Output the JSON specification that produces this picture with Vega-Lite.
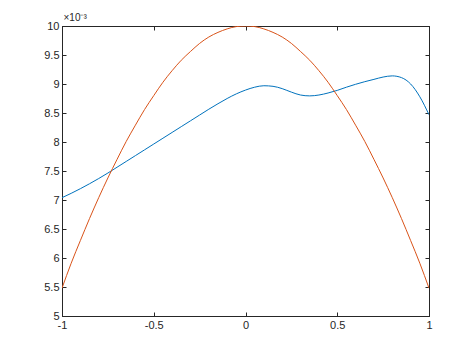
{
  "$schema": "https://vega.github.io/schema/vega-lite/v6.json",
  "width": 367,
  "height": 290,
  "autosize": {"type": "none"},
  "padding": {"left": 62, "top": 26, "right": 45, "bottom": 39},
  "background": "white",
  "config": {
    "view": {"stroke": "#262626", "strokeWidth": 1},
    "axis": {"grid": false, "domainColor": "#262626", "tickColor": "#262626", "labelColor": "#262626", "labelFont": "Liberation Sans", "labelFontSize": 11, "tickSize": -4, "domainWidth": 1, "tickWidth": 1, "titleFont": "Liberation Sans", "titleColor": "#262626"}
  },
  "datasets": {
    "pts": [
      {"x": -1, "s": "b", "y": 0.00704}, {"x": -0.95, "s": "b", "y": 0.007115}, {"x": -0.9, "s": "b", "y": 0.007195}, {"x": -0.85, "s": "b", "y": 0.00728}, {"x": -0.8, "s": "b", "y": 0.00737}, {"x": -0.75, "s": "b", "y": 0.007465}, {"x": -0.7, "s": "b", "y": 0.007565}, {"x": -0.65, "s": "b", "y": 0.007665}, {"x": -0.6, "s": "b", "y": 0.007765}, {"x": -0.55, "s": "b", "y": 0.007865}, {"x": -0.5, "s": "b", "y": 0.007965}, {"x": -0.45, "s": "b", "y": 0.008065}, {"x": -0.4, "s": "b", "y": 0.008165}, {"x": -0.35, "s": "b", "y": 0.008265}, {"x": -0.3, "s": "b", "y": 0.008365}, {"x": -0.25, "s": "b", "y": 0.008465}, {"x": -0.2, "s": "b", "y": 0.008565}, {"x": -0.15, "s": "b", "y": 0.00866}, {"x": -0.1, "s": "b", "y": 0.00875}, {"x": -0.05, "s": "b", "y": 0.00883}, {"x": 0, "s": "b", "y": 0.008895}, {"x": 0.05, "s": "b", "y": 0.008945}, {"x": 0.1, "s": "b", "y": 0.00897}, {"x": 0.15, "s": "b", "y": 0.00896}, {"x": 0.2, "s": "b", "y": 0.00892}, {"x": 0.25, "s": "b", "y": 0.00886}, {"x": 0.3, "s": "b", "y": 0.00881}, {"x": 0.35, "s": "b", "y": 0.008795}, {"x": 0.4, "s": "b", "y": 0.00881}, {"x": 0.45, "s": "b", "y": 0.008845}, {"x": 0.5, "s": "b", "y": 0.00889}, {"x": 0.55, "s": "b", "y": 0.008945}, {"x": 0.6, "s": "b", "y": 0.008995}, {"x": 0.65, "s": "b", "y": 0.00904}, {"x": 0.7, "s": "b", "y": 0.00908}, {"x": 0.75, "s": "b", "y": 0.00912}, {"x": 0.8, "s": "b", "y": 0.00914}, {"x": 0.85, "s": "b", "y": 0.00911}, {"x": 0.9, "s": "b", "y": 0.009}, {"x": 0.95, "s": "b", "y": 0.00878}, {"x": 1, "s": "b", "y": 0.00847},
      {"x": -1, "s": "o", "y": 0.00548}, {"x": -0.95, "s": "o", "y": 0.00591}, {"x": -0.9, "s": "o", "y": 0.0063}, {"x": -0.85, "s": "o", "y": 0.00668}, {"x": -0.8, "s": "o", "y": 0.00704}, {"x": -0.75, "s": "o", "y": 0.00738}, {"x": -0.7, "s": "o", "y": 0.0077}, {"x": -0.65, "s": "o", "y": 0.00801}, {"x": -0.6, "s": "o", "y": 0.00829}, {"x": -0.55, "s": "o", "y": 0.00856}, {"x": -0.5, "s": "o", "y": 0.0088}, {"x": -0.45, "s": "o", "y": 0.00903}, {"x": -0.4, "s": "o", "y": 0.00923}, {"x": -0.35, "s": "o", "y": 0.00941}, {"x": -0.3, "s": "o", "y": 0.00956}, {"x": -0.25, "s": "o", "y": 0.0097}, {"x": -0.2, "s": "o", "y": 0.00981}, {"x": -0.15, "s": "o", "y": 0.00989}, {"x": -0.1, "s": "o", "y": 0.00995}, {"x": -0.05, "s": "o", "y": 0.00999}, {"x": 0, "s": "o", "y": 0.01}, {"x": 0.05, "s": "o", "y": 0.00999}, {"x": 0.1, "s": "o", "y": 0.00995}, {"x": 0.15, "s": "o", "y": 0.00989}, {"x": 0.2, "s": "o", "y": 0.00981}, {"x": 0.25, "s": "o", "y": 0.0097}, {"x": 0.3, "s": "o", "y": 0.00956}, {"x": 0.35, "s": "o", "y": 0.00941}, {"x": 0.4, "s": "o", "y": 0.00923}, {"x": 0.45, "s": "o", "y": 0.00903}, {"x": 0.5, "s": "o", "y": 0.0088}, {"x": 0.55, "s": "o", "y": 0.00856}, {"x": 0.6, "s": "o", "y": 0.00829}, {"x": 0.65, "s": "o", "y": 0.00801}, {"x": 0.7, "s": "o", "y": 0.0077}, {"x": 0.75, "s": "o", "y": 0.00738}, {"x": 0.8, "s": "o", "y": 0.00704}, {"x": 0.85, "s": "o", "y": 0.00668}, {"x": 0.9, "s": "o", "y": 0.0063}, {"x": 0.95, "s": "o", "y": 0.00591}, {"x": 1, "s": "o", "y": 0.00548}
    ]
  },
  "data": {"name": "pts"},
  "resolve": {"axis": {"x": "independent", "y": "independent"}},
  "layer": [
    {
      "transform": [{"filter": "datum.s === 'b'"}],
      "mark": {"type": "line", "color": "#0072BD", "strokeWidth": 1, "interpolate": "monotone", "clip": true},
      "encoding": {
        "x": {"field": "x", "type": "quantitative", "scale": {"domain": [-1, 1], "nice": false, "zero": false},
          "axis": {"orient": "bottom", "values": [-1, -0.5, 0, 0.5, 1], "labelExpr": "toString(datum.value)", "title": null, "labelPadding": 7, "labelFlush": false}},
        "y": {"field": "y", "type": "quantitative", "scale": {"domain": [0.005, 0.01], "nice": false, "zero": false},
          "axis": {"orient": "left", "values": [0.005, 0.0055, 0.006, 0.0065, 0.007, 0.0075, 0.008, 0.0085, 0.009, 0.0095, 0.01], "labelExpr": "toString(round(datum.value * 10000) / 10)", "labelPadding": 7, "labelFlush": false,
            "title": "×10⁻³", "titleAngle": 0, "titleAlign": "left", "titleBaseline": "alphabetic", "titleX": 1, "titleY": -6, "titleFontSize": 10, "titleFontWeight": "normal"}}
      }
    },
    {
      "transform": [{"filter": "datum.s === 'o'"}],
      "mark": {"type": "line", "color": "#D95319", "strokeWidth": 1, "interpolate": "monotone", "clip": true},
      "encoding": {
        "x": {"field": "x", "type": "quantitative", "scale": {"domain": [-1, 1], "nice": false, "zero": false},
          "axis": {"orient": "top", "values": [-1, -0.5, 0, 0.5, 1], "labels": false, "title": null}},
        "y": {"field": "y", "type": "quantitative", "scale": {"domain": [0.005, 0.01], "nice": false, "zero": false},
          "axis": {"orient": "right", "values": [0.005, 0.0055, 0.006, 0.0065, 0.007, 0.0075, 0.008, 0.0085, 0.009, 0.0095, 0.01], "labels": false, "title": null}}
      }
    }
  ]
}
